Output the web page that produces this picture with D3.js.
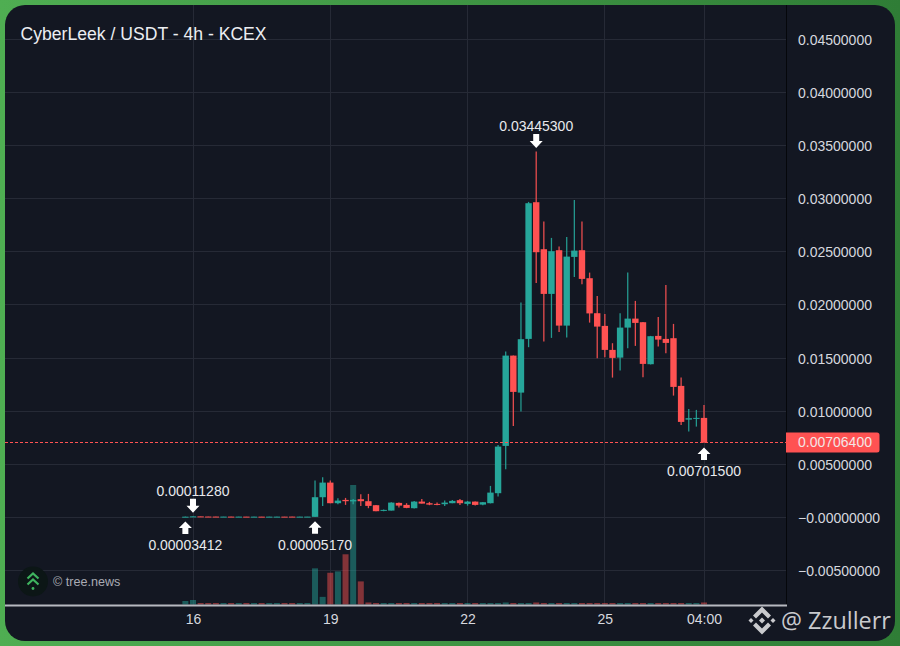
<!DOCTYPE html>
<html>
<head>
<meta charset="utf-8">
<script src="https://cdn.jsdelivr.net/npm/d3@7"></script>
<style>
  html, body { margin: 0; padding: 0; background: #3c9a46; }
  svg { display: block; font-family: "Liberation Sans", Arial, sans-serif; }
</style>
</head>
<body>
<div id="chart"></div>
<script>
// candles run from bar -1 (just before the "16" tick) to bar 67 (04:00)
var firstBar = -1;

var open = [0.000034, 0.000068, 0.000095, 0.00008, 0.000078, 0.000076, 0.000076, 0.000074, 0.000074, 0.000072, 0.000072, 0.00007, 0.00007, 0.000073, 0.000076, 0.00007, 0.000072,
  0.0000517, 0.0019, 0.003277, 0.001337, 0.001648, 0.001507, 0.001714, 0.001525, 0.001149, 0.000612, 0.00064, 0.001365, 0.001177, 0.000866, 0.001488, 0.001337, 0.001271,
  0.001243, 0.001337, 0.00162, 0.001271, 0.001488, 0.001205, 0.001337, 0.002279, 0.006732, 0.015235, 0.011751, 0.016808, 0.029679, 0.025254, 0.021045, 0.02516, 0.01806,
  0.024529, 0.02516, 0.022523, 0.019227, 0.018032, 0.015772, 0.015047, 0.017872, 0.018719, 0.01838, 0.014425, 0.01709, 0.016808, 0.016874, 0.012382, 0.009209, 0.009275, 0.009369];
var high = [0.000072, 0.0001128, 0.000098, 0.000084, 0.00008, 0.00008, 0.000078, 0.000078, 0.000076, 0.000076, 0.000074, 0.000074, 0.000075, 0.000076, 0.000078, 0.000076, 0.000078,
  0.003465, 0.003785, 0.003465, 0.001808, 0.001836, 0.001742, 0.002185, 0.002213, 0.001177, 0.000753, 0.001431, 0.001394, 0.001337, 0.001554, 0.001742, 0.00146, 0.001394,
  0.001582, 0.001648, 0.001742, 0.001554, 0.001507, 0.00146, 0.002966, 0.006827, 0.015612, 0.015254, 0.020226, 0.029707, 0.034453, 0.027853, 0.026318, 0.025498, 0.026412,
  0.029896, 0.027853, 0.023051, 0.020857, 0.019162, 0.016403, 0.019227, 0.023051, 0.020386, 0.018408, 0.01709, 0.018879, 0.021892, 0.01822, 0.013164, 0.010216, 0.010122, 0.010593];
var low = [0.00003412, 0.00006, 0.00007, 0.000066, 0.000066, 0.000064, 0.000064, 0.000064, 0.000062, 0.000062, 0.00006, 0.00006, 0.000062, 0.000062, 0.000064, 0.000062, 0.000066,
  0.0000517, 0.001083, 0.001337, 0.001243, 0.001177, 0.001243, 0.001083, 0.000866, 0.000584, 0.000584, 0.00064, 0.000923, 0.000866, 0.000829, 0.001299, 0.001149, 0.001149,
  0.001083, 0.001337, 0.001177, 0.001111, 0.001111, 0.001149, 0.001318, 0.001959, 0.004539, 0.008616, 0.009962, 0.016026, 0.02208, 0.016553, 0.016902, 0.017467, 0.01693,
  0.022645, 0.021958, 0.018342, 0.01499, 0.015084, 0.013164, 0.013823, 0.015932, 0.016149, 0.013201, 0.0144, 0.016083, 0.015461, 0.011469, 0.00871, 0.008079, 0.00855, 0.007015];
var close = [0.000068, 0.000095, 0.00008, 0.000078, 0.000076, 0.000076, 0.000074, 0.000074, 0.000072, 0.000072, 0.00007, 0.000072, 0.000073, 0.00007, 0.00007, 0.000072, 0.000075,
  0.001902, 0.003277, 0.001337, 0.001582, 0.001525, 0.001648, 0.001525, 0.001083, 0.000584, 0.000706, 0.001394, 0.001111, 0.000895, 0.001488, 0.001299, 0.001205, 0.001205,
  0.001394, 0.001554, 0.001337, 0.001488, 0.001177, 0.001431, 0.002335, 0.006667, 0.015235, 0.011817, 0.016779, 0.029585, 0.024971, 0.021045, 0.025065, 0.01806, 0.024557,
  0.025122, 0.022457, 0.019209, 0.017966, 0.015772, 0.015019, 0.017872, 0.018719, 0.018314, 0.014454, 0.017062, 0.016742, 0.016431, 0.012288, 0.008992, 0.009341, 0.009369, 0.007064];
var volume = [3.5, 4.5, 1.5, 1.5, 1.5, 1.5, 1.5, 1.5, 1.5, 1.5, 1.5, 1.5, 1.5, 1.5, 1.5, 1.5, 1.5,
  36, 7.6, 31.6, 33, 50, 119, 23, 2, 1.5, 1.5, 1.5, 1.5, 1.5, 1.5, 1.5, 1.5, 1.5,
  1.5, 1.5, 1.5, 1.5, 1.5, 1.5, 1.5, 1.5, 2, 1.5, 1.5, 1.5, 2, 1.5, 1.5, 1.5, 1.5,
  1.5, 1.5, 1.5, 1.5, 1.5, 1.5, 1.5, 1.5, 1.5, 1.5, 1.5, 1.5, 1.5, 1.5, 1.5, 1.5, 1.5, 2];

var priceTicks = [0.045, 0.04, 0.035, 0.03, 0.025, 0.02, 0.015, 0.01, 0.005, 0, -0.005];
var priceLabels = ["0.04500000", "0.04000000", "0.03500000", "0.03000000", "0.02500000", "0.02000000", "0.01500000", "0.01000000", "0.00500000", "\u22120.00000000", "\u22120.00500000"];
var timeTicks = [0, 18, 36, 54, 67];
var timeLabels = ["16", "19", "22", "25", "04:00"];

var markerBars = [45, 0, -1, 16, 67];
var markerPrices = [0.034453, 0.0001128, 0.00003412, 0.0000517, 0.007015];
var markerLabels = ["0.03445300", "0.00011280", "0.00003412", "0.00005170", "0.00701500"];
var markerDirs = ["down", "down", "up", "up", "up"];

var lastPrice = 0.007064;
var lastLabel = "0.00706400";

var svgWidth = 900;
var svgHeight = 646;
var panel = { left: 5, top: 5, right: 895, bottom: 641 };
var axisX = 786;
var axisY = 605.5;

var upColor = "#26a69a";
var downColor = "#ff5252";
var gridColor = "#262a36";
var textColor = "#d6d8df";

var svg = d3.select("#chart")
  .append("svg")
  .attr("width", svgWidth)
  .attr("height", svgHeight);

var defs = svg.append("defs");
var grad = defs.append("linearGradient").attr("id", "frame");
grad.append("stop").attr("offset", "0%").attr("stop-color", "#4fae52");
grad.append("stop").attr("offset", "100%").attr("stop-color", "#2f7d36");

svg.append("rect")
  .attr("width", svgWidth)
  .attr("height", svgHeight)
  .attr("fill", "url(#frame)");

svg.append("rect")
  .attr("x", panel.left)
  .attr("y", panel.top)
  .attr("width", panel.right - panel.left)
  .attr("height", panel.bottom - panel.top)
  .attr("rx", 20)
  .attr("fill", "#131722");

var xScale = d3.scaleLinear().domain([0, 67]).range([193, 704]);
var yScale = d3.scaleLinear().domain([0.045, -0.005]).range([39.5, 570.5]);
var volScale = d3.scaleLinear().domain([0, 119]).range([604.5, 485]);

var bars = d3.range(open.length).map(function(i) { return i + firstBar; });
var barAt = function(i) { return i - firstBar; };
var isUp = function(b) { return close[barAt(b)] >= open[barAt(b)]; };

// grid
svg.append("g").selectAll("line")
  .data(priceTicks)
  .enter().append("line")
  .attr("x1", panel.left).attr("x2", axisX)
  .attr("y1", function(d) { return Math.floor(yScale(d)) + 0.5; })
  .attr("y2", function(d) { return Math.floor(yScale(d)) + 0.5; })
  .attr("stroke", gridColor);

svg.append("g").selectAll("line")
  .data(timeTicks)
  .enter().append("line")
  .attr("x1", function(d) { return Math.floor(xScale(d)) + 0.5; })
  .attr("x2", function(d) { return Math.floor(xScale(d)) + 0.5; })
  .attr("y1", panel.top).attr("y2", axisY)
  .attr("stroke", gridColor);

// volume goes behind the candles
svg.append("g").selectAll("rect")
  .data(bars)
  .enter().append("rect")
  .attr("x", function(d) { return xScale(d) - 3; })
  .attr("width", 6)
  .attr("y", function(d) { return volScale(volume[barAt(d)]); })
  .attr("height", function(d) { return volScale(0) - volScale(volume[barAt(d)]); })
  .attr("fill", function(d) { return isUp(d) ? upColor : downColor; })
  .attr("fill-opacity", 0.48);

// wicks
svg.append("g").selectAll("line")
  .data(bars)
  .enter().append("line")
  .attr("x1", function(d) { return xScale(d); })
  .attr("x2", function(d) { return xScale(d); })
  .attr("y1", function(d) { return yScale(high[barAt(d)]); })
  .attr("y2", function(d) { return yScale(low[barAt(d)]); })
  .attr("stroke", function(d) { return isUp(d) ? upColor : downColor; })
  .attr("stroke-opacity", 0.9)
  .attr("stroke-width", 1.3);

// bodies
svg.append("g").selectAll("rect")
  .data(bars)
  .enter().append("rect")
  .attr("x", function(d) { return xScale(d) - 3.2; })
  .attr("width", 6.4)
  .attr("y", function(d) { return yScale(Math.max(open[barAt(d)], close[barAt(d)])); })
  .attr("height", function(d) {
    var h = Math.abs(yScale(open[barAt(d)]) - yScale(close[barAt(d)]));
    return Math.max(h, 1);
  })
  .attr("fill", function(d) { return isUp(d) ? upColor : downColor; });

// last price line and tag
svg.append("line")
  .attr("x1", panel.left).attr("x2", axisX)
  .attr("y1", Math.floor(yScale(lastPrice)) + 0.5)
  .attr("y2", Math.floor(yScale(lastPrice)) + 0.5)
  .attr("stroke", downColor)
  .attr("stroke-dasharray", "3 2");

// axes
var yAxis = d3.axisRight(yScale)
  .tickValues(priceTicks)
  .tickSize(0)
  .tickPadding(12)
  .tickFormat(function(d, i) { return priceLabels[i]; });

var xAxis = d3.axisBottom(xScale)
  .tickValues(timeTicks)
  .tickSize(0)
  .tickPadding(9)
  .tickFormat(function(d, i) { return timeLabels[i]; });

var yAxisG = svg.append("g")
  .attr("transform", "translate(" + axisX + ",0.5)")
  .call(yAxis);
yAxisG.select(".domain").remove();
yAxisG.selectAll("text").attr("font-size", 14).attr("font-family", null).attr("fill", textColor);

var xAxisG = svg.append("g")
  .attr("transform", "translate(0," + axisY + ")")
  .call(xAxis);
xAxisG.select(".domain").remove();
xAxisG.selectAll("text").attr("font-size", 14).attr("font-family", null).attr("fill", textColor);

svg.append("line")
  .attr("x1", axisX + 0.5).attr("x2", axisX + 0.5)
  .attr("y1", panel.top).attr("y2", axisY)
  .attr("stroke", "#05070b");

svg.append("line")
  .attr("x1", panel.left).attr("x2", axisX + 1)
  .attr("y1", axisY).attr("y2", axisY)
  .attr("stroke", "#b7b9c0")
  .attr("stroke-width", 2);

svg.append("path")
  .attr("d", "M786,432.5H877a2.5,2.5 0 0 1 2.5,2.5V450a2.5,2.5 0 0 1 -2.5,2.5H786Z")
  .attr("fill", downColor);

svg.append("text")
  .attr("x", 798)
  .attr("y", yScale(lastPrice))
  .attr("dy", "0.36em")
  .attr("font-size", 14)
  .attr("fill", "#f3e6e6")
  .text(lastLabel);

// high / low markers
var arrowDown = "M-3,-14H3V-7H6.5L0,0L-6.5,-7H-3Z";
var arrowUp = "M-3,12.5H3V6.5H6.5L0,0L-6.5,6.5H-3Z";

markerBars.forEach(function(b, i) {
  var mx = xScale(b);
  var my = yScale(markerPrices[i]);
  var down = markerDirs[i] == "down";
  svg.append("path")
    .attr("transform", "translate(" + mx + "," + (my + (down ? -3.5 : 4.5)) + ")")
    .attr("d", down ? arrowDown : arrowUp)
    .attr("fill", "#fff");
  svg.append("text")
    .attr("x", mx)
    .attr("y", my + (down ? -25.6 : 28))
    .attr("dy", "0.36em")
    .attr("text-anchor", "middle")
    .attr("font-size", 14)
    .attr("fill", "#e8e9ed")
    .text(markerLabels[i]);
});

// title
svg.append("text")
  .attr("x", 20.5)
  .attr("y", 39.5)
  .attr("font-size", 17.6)
  .attr("fill", "#eceef2")
  .text("CyberLeek / USDT - 4h - KCEX");

// tree.news badge
var badge = svg.append("g").attr("transform", "translate(33,581.5)");
badge.append("circle").attr("r", 15).attr("fill", "#0c1616");
badge.append("path")
  .attr("d", "M-5.5,-3L0,-8L5.5,-3M-5.5,3L0,-2L5.5,3")
  .attr("fill", "none")
  .attr("stroke", "#3fb45f")
  .attr("stroke-width", 2.2);
badge.append("circle").attr("cy", 7).attr("r", 1.4).attr("fill", "#3fb45f");

svg.append("text")
  .attr("x", 53)
  .attr("y", 586)
  .attr("font-size", 12.6)
  .attr("fill", "#a9abb3")
  .text("\u00a9 tree.news");

// binance style logo and handle at bottom right
var logo = svg.append("g").attr("transform", "translate(762,620.5)").attr("fill", "#c9cacd");
logo.append("path").attr("d", "M0,-14L9,-5L6,-2L0,-8L-6,-2L-9,-5Z");
logo.append("path").attr("d", "M0,14L9,5L6,2L0,8L-6,2L-9,5Z");
logo.append("path").attr("d", "M0,-3L3,0L0,3L-3,0Z");
logo.append("path").attr("d", "M-11,-2.5L-8.5,0L-11,2.5L-13.5,0Z");
logo.append("path").attr("d", "M11,-2.5L13.5,0L11,2.5L8.5,0Z");

svg.append("text")
  .attr("x", 781)
  .attr("y", 629)
  .attr("font-size", 23.4)
  .attr("font-family", "'Open Sans', sans-serif")
  .attr("fill", "#c9cacd")
  .text("@ Zzullerr");
</script>
</body>
</html>
